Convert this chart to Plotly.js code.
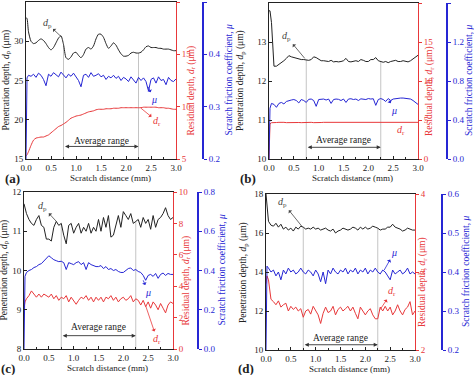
<!DOCTYPE html>
<html><head><meta charset="utf-8">
<script src="https://cdn.plot.ly/plotly-3.0.1.min.js"></script>
<style>html,body{margin:0;padding:0;background:#fff}#chart{width:474px;height:375px}</style>
</head><body><div id="chart"></div>
<script>
// Scratch distance (mm)
const X = [0,0.02,
0.05,0.1,0.15,0.2,0.25,0.3,0.35,0.4,0.45,0.5,
0.55,0.6,0.65,0.7,0.75,0.8,0.85,0.9,0.95,1.0,
1.05,1.1,1.15,1.2,1.25,1.3,1.35,1.4,1.45,1.5,
1.55,1.6,1.65,1.7,1.75,1.8,1.85,1.9,1.95,2.0,
2.05,2.1,2.15,2.2,2.25,2.3,2.35,2.4,2.45,2.5,
2.55,2.6,2.65,2.7,2.75,2.8,2.85,2.9,2.95,3.0];

// Panel (a)
const A_dp = [33.0,32.9,
31.2,30.0,29.7,29.8,30.1,30.3,30.1,29.7,29.2,28.9,
29.2,29.8,30.4,30.7,29.6,27.9,27.7,28.0,28.5,28.6,
28.2,27.9,28.3,29.0,29.2,29.0,29.4,30.3,30.9,30.9,
30.5,29.7,29.1,29.4,29.8,29.5,28.9,28.4,28.1,28.1,
28.2,28.5,28.6,28.5,28.5,28.6,28.9,29.3,29.4,29.2,
29.2,29.2,29.1,29.1,29.0,29.0,29.0,28.9,28.8,28.8];
const A_dr = [5.3,5.4,
5.7,6.3,6.8,7.0,7.05,7.1,7.1,7.2,7.3,7.5,
7.7,7.9,8.1,8.2,8.35,8.5,8.7,8.9,9.0,9.1,
9.15,9.2,9.3,9.4,9.5,9.55,9.6,9.7,9.75,9.75,
9.75,9.8,9.8,9.8,9.85,9.85,9.85,9.9,9.9,9.9,
9.9,9.9,9.9,9.9,9.9,9.9,9.95,9.95,9.95,9.95,
9.95,9.95,9.9,9.9,9.9,9.85,9.85,9.8,9.75,9.75];
const A_mu = [0.2,0.355,
0.36,0.358,0.362,0.356,0.364,0.36,0.352,0.34,0.362,0.358,
0.365,0.36,0.357,0.366,0.36,0.355,0.362,0.358,0.364,0.357,
0.35,0.338,0.36,0.362,0.356,0.365,0.358,0.36,0.363,0.357,
0.36,0.352,0.358,0.355,0.36,0.354,0.358,0.35,0.356,0.353,
0.348,0.357,0.352,0.345,0.356,0.35,0.355,0.348,0.33,0.352,
0.355,0.345,0.357,0.35,0.352,0.342,0.356,0.35,0.348,0.353];

// Panel (b)
const B_dp = [13.8,13.8,
13.5,12.38,12.38,12.42,12.47,12.52,12.58,12.65,12.62,12.6,
12.57,12.56,12.55,12.55,12.54,12.53,12.55,12.62,12.6,12.55,
12.52,12.52,12.5,12.5,12.53,12.49,12.5,12.49,12.5,12.52,
12.58,12.5,12.49,12.5,12.52,12.5,12.55,12.53,12.5,12.5,
12.55,12.55,12.6,12.52,12.5,12.48,12.5,12.47,12.5,12.52,
12.53,12.5,12.5,12.52,12.5,12.49,12.52,12.56,12.6,12.66];
const B_dr = [0.0,4.5,
4.65,4.7,4.68,4.7,4.72,4.7,4.66,4.68,4.7,4.72,
4.7,4.68,4.66,4.68,4.7,4.72,4.7,4.66,4.64,4.66,
4.68,4.7,4.7,4.68,4.68,4.7,4.7,4.68,4.68,4.7,
4.7,4.68,4.68,4.7,4.7,4.68,4.7,4.7,4.68,4.68,
4.7,4.7,4.72,4.7,4.68,4.68,4.7,4.7,4.68,4.68,
4.7,4.7,4.68,4.68,4.7,4.7,4.68,4.68,4.7,4.7];
const B_mu = [0.0,0.52,
0.57,0.56,0.53,0.57,0.58,0.565,0.59,0.6,0.605,0.61,
0.6,0.575,0.61,0.6,0.58,0.612,0.615,0.6,0.54,0.61,
0.612,0.615,0.605,0.615,0.57,0.61,0.615,0.612,0.6,0.615,
0.58,0.615,0.618,0.61,0.615,0.6,0.617,0.615,0.61,0.62,
0.615,0.618,0.55,0.61,0.62,0.61,0.59,0.62,0.6,0.615,
0.62,0.618,0.625,0.625,0.62,0.62,0.615,0.6,0.58,0.56];

// Panel (c)
const C_dp = [11.7,11.6,
11.45,11.3,11.2,11.15,11.3,11.4,11.15,11.1,10.8,10.8,
10.75,11.1,11.25,11.15,11.2,10.9,10.68,11.15,11.2,10.95,
11.1,11.2,10.95,11.1,11.0,11.2,10.95,11.1,11.0,11.3,
11.0,11.35,11.1,11.4,10.85,10.9,11.15,11.4,11.1,11.5,
11.4,11.3,11.45,11.2,11.25,11.3,11.1,11.35,11.2,11.3,
11.05,11.4,11.1,11.3,11.35,11.45,11.6,11.4,11.3,11.35];
const C_dr = [2.6,3.0,
3.2,3.4,3.7,3.5,3.3,3.5,3.3,3.5,3.4,3.3,
3.5,3.2,3.4,3.1,3.3,3.2,3.4,3.0,3.3,3.1,
2.85,3.1,3.3,3.2,3.4,3.1,3.3,3.0,3.3,3.1,
3.3,3.0,3.3,3.2,3.4,3.1,3.3,3.0,3.2,3.3,
3.1,3.2,3.4,3.0,3.2,3.1,2.8,3.1,2.7,3.0,
2.6,3.0,2.8,2.5,2.9,2.6,2.3,2.8,3.0,2.9];
const C_mu = [0.0,0.37,
0.39,0.40,0.405,0.415,0.42,0.43,0.435,0.45,0.46,0.475,
0.465,0.455,0.45,0.445,0.447,0.44,0.405,0.44,0.435,0.43,
0.44,0.445,0.43,0.44,0.405,0.44,0.43,0.425,0.42,0.42,
0.425,0.41,0.42,0.405,0.41,0.4,0.405,0.395,0.39,0.39,
0.4,0.41,0.413,0.40,0.405,0.395,0.39,0.375,0.35,0.375,
0.38,0.37,0.385,0.36,0.38,0.387,0.375,0.385,0.38,0.38];

// Panel (d)
const D_dp = [18.0,17.4,
16.6,16.4,16.35,16.5,16.3,16.45,16.2,16.3,16.15,16.25,
16.1,16.3,16.2,16.35,16.3,16.2,16.25,16.2,16.3,16.2,
16.25,16.15,16.2,16.25,16.15,16.1,16.2,16.0,16.1,16.15,
16.25,16.2,16.15,16.2,16.3,16.25,16.15,16.3,16.2,16.3,
16.2,16.25,16.35,16.3,16.25,16.15,16.2,16.2,16.3,16.3,
16.45,16.3,16.25,16.2,16.1,16.15,16.25,16.2,16.15,16.15];
const D_dr = [2.85,2.95,
2.9,2.65,2.62,2.58,2.63,2.55,2.58,2.6,2.5,2.56,
2.52,2.55,2.5,2.53,2.42,2.5,2.52,2.46,2.56,2.5,
2.45,2.34,2.47,2.55,2.48,2.5,2.56,2.45,2.52,2.55,
2.5,2.53,2.56,2.5,2.55,2.47,2.4,2.55,2.5,2.45,
2.5,2.53,2.45,2.4,2.4,2.55,2.5,2.56,2.5,2.55,
2.45,2.5,2.58,2.5,2.45,2.52,2.55,2.62,2.45,2.5];
const D_mu = [0.2,0.415,
0.41,0.4,0.405,0.39,0.4,0.38,0.405,0.395,0.41,0.4,
0.405,0.395,0.4,0.41,0.4,0.395,0.405,0.4,0.39,0.405,
0.395,0.375,0.4,0.37,0.405,0.395,0.41,0.4,0.395,0.405,
0.4,0.41,0.395,0.405,0.4,0.41,0.395,0.405,0.4,0.41,
0.395,0.405,0.4,0.41,0.4,0.395,0.405,0.4,0.39,0.38,
0.405,0.395,0.4,0.405,0.395,0.4,0.41,0.395,0.4,0.395];

// Tick values
const X_ticks = [0,0.5,1.0,1.5,2.0,2.5,3.0];
const A_dp_ticks = [15,20,25,30,35];
const A_dr_ticks = [5,10,15,20];
const A_mu_ticks = [0.2,0.3,0.4,0.5];
const B_dp_ticks = [10,11,12,13,14];
const B_dr_ticks = [0,5,10,15,20];
const B_mu_ticks = [0.0,0.4,0.8,1.2,1.6];
const C_dp_ticks = [8,9,10,11,12];
const C_dr_ticks = [0,2,4,6,8,10];
const C_mu_ticks = [0.0,0.2,0.4,0.6,0.8];
const D_dp_ticks = [10,12,14,16,18];
const D_dr_ticks = [2,3,4];
const D_mu_ticks = [0.2,0.3,0.4,0.5,0.6];
const panelLabels = ['(a)','(b)','(c)','(d)'];
const avgRange = [0.75, 2.25];

const BLACK = '#222222', RED = '#e8383a', BLUE = '#2626d4', GREY = '#c4c4c4';
const FONT = 'Liberation Serif, Times New Roman, serif';
const W = 474, H = 375;

const panels = [
  {dp:A_dp, dr:A_dr, mu:A_mu, t1:A_dp_ticks, t2:A_dr_ticks, t3:A_mu_ticks, f3:'.1f',
   xd:[26,176], yd:[2,159], blue:203, spline:true,
   lab:[12,178], t1x:6, t2x:191, t3x:228,
   dpL:{ax:0.42, ay:32.3, x:0.7, y:30.6}, muL:{ax:2.56, ay:0.314, x:2.44, y:0.338}, drL:{ax:2.62, ay:8.6, x:2.3, y:9.85},
   avgY:16.6, avgT:17.35},
  {dp:B_dp, dr:B_dr, mu:B_mu, t1:B_dp_ticks, t2:B_dr_ticks, t3:B_mu_ticks, f3:'.1f',
   xd:[269,418], yd:[3,159], blue:447, spline:false,
   lab:[248,178], t1x:241, t2x:429, t3x:469,
   dpL:{ax:0.36, ay:13.13, x:0.72, y:12.58}, muL:{ax:2.52, ay:0.5, x:2.42, y:0.6}, drL:{ax:2.66, ay:3.6, x:2.44, y:4.68},
   avgY:10.3, avgT:10.5},
  {dp:C_dp, dr:C_dr, mu:C_mu, t1:C_dp_ticks, t2:C_dr_ticks, t3:C_mu_ticks, f3:'.1f',
   xd:[24,173], yd:[192,349], blue:198, spline:false,
   lab:[8,368], t1x:4, t2x:186, t3x:221,
   dpL:{ax:0.38, ay:11.62, x:0.66, y:11.24}, muL:{ax:2.5, ay:0.29, x:2.4, y:0.35}, drL:{ax:2.68, ay:0.6, x:2.45, y:2.75},
   avgY:8.34, avgT:8.55},
  {dp:D_dp, dr:D_dr, mu:D_mu, t1:D_dp_ticks, t2:D_dr_ticks, t3:D_mu_ticks, f3:'.1f',
   xd:[266,415], yd:[194,350], blue:442, spline:false,
   lab:[246,368], t1x:243, t2x:422, t3x:466,
   dpL:{ax:0.34, ay:17.55, x:0.72, y:16.35}, muL:{ax:2.58, ay:0.45, x:2.38, y:0.405}, drL:{ax:2.54, ay:2.75, x:2.3, y:2.52},
   avgY:10.27, avgT:10.6}
];

const traces = [], annotations = [], shapes = [];
const layout = {width:W, height:H, margin:{l:0,r:0,t:0,b:0}, paper_bgcolor:'#fff', plot_bgcolor:'rgba(0,0,0,0)',
  showlegend:false, font:{family:FONT, size:9, color:BLACK}};

function fmt(v, f){ return f==='.1f' ? v.toFixed(1) : String(v); }
const tickfont = c => ({family:FONT, size:9, color:c});
const paperNote = (px, py, txt, size, col, angle) => annotations.push({xref:'paper', yref:'paper', x:px/W, y:1-py/H,
  xanchor:'center', yanchor:'middle', text:txt, showarrow:false, textangle:angle||0, font:{family:FONT, size:size, color:col}});

panels.forEach((p, i) => {
  const xn = i===0 ? '' : String(i+1);
  const y1n = String(3*i+1), y2n = String(3*i+2), y3n = String(3*i+3);
  const xid = 'x'+xn, y1id = 'y'+(y1n==='1'?'':y1n), y2id = 'y'+y2n, y3id = 'y'+y3n;
  const xdom = [p.xd[0]/W, p.xd[1]/W];
  const ydom = [1-p.yd[1]/H, 1-p.yd[0]/H];
  const r1 = [p.t1[0], p.t1[p.t1.length-1]], r2 = [p.t2[0], p.t2[p.t2.length-1]], r3 = [p.t3[0], p.t3[p.t3.length-1]];

  layout['xaxis'+xn] = {domain:xdom, anchor:y1id, range:[0,3], tickvals:X_ticks, ticktext:X_ticks.map(v=>v.toFixed(1)),
    showline:true, linecolor:BLACK, linewidth:1, mirror:true, ticks:'inside', ticklen:3, tickcolor:BLACK,
    showgrid:false, zeroline:false, tickfont:tickfont(BLACK),
    minor:{tickvals:[0.25,0.75,1.25,1.75,2.25,2.75], ticks:'inside', ticklen:2, tickcolor:BLACK, showgrid:false}};
  layout['yaxis'+(y1n==='1'?'':y1n)] = {domain:ydom, anchor:xid, range:r1, tickvals:p.t1, ticktext:p.t1.map(v=>String(v)),
    showline:true, linecolor:BLACK, linewidth:1, ticks:'inside', ticklen:3, tickcolor:BLACK, showgrid:false, zeroline:false,
    tickfont:tickfont(BLACK)};
  layout['yaxis'+y2n] = {domain:ydom, anchor:xid, overlaying:y1id, side:'right', range:r2, tickvals:p.t2, ticktext:p.t2.map(v=>String(v)),
    showline:true, linecolor:RED, linewidth:1, ticks:'outside', ticklen:3, tickcolor:RED, showgrid:false, zeroline:false,
    tickfont:tickfont(RED)};
  layout['yaxis'+y3n] = {domain:ydom, anchor:'free', position:p.blue/W, overlaying:y1id, side:'right', range:r3,
    tickvals:p.t3, ticktext:p.t3.map(v=>fmt(v,p.f3)),
    showline:true, linecolor:BLUE, linewidth:2, ticks:'outside', ticklen:3, tickcolor:BLUE, showgrid:false, zeroline:false,
    tickfont:tickfont(BLUE)};

  const shp = p.spline ? 'spline' : 'linear';
  traces.push({x:X, y:p.dp, xaxis:xid, yaxis:y1id, mode:'lines', line:{color:BLACK, width:1, shape:shp, smoothing:0.6}});
  traces.push({x:X, y:p.dr, xaxis:xid, yaxis:y2id, mode:'lines', line:{color:RED, width:1, shape:shp, smoothing:0.6}});
  traces.push({x:X, y:p.mu, xaxis:xid, yaxis:y3id, mode:'lines', line:{color:BLUE, width:1}});

  // grey lines marking the average range
  avgRange.forEach(xv => {
    const k = X.indexOf(xv);
    shapes.push({type:'line', xref:xid, yref:y1id, x0:xv, x1:xv, y0:r1[0], y1:p.dp[k], line:{color:GREY, width:1}, layer:'below'});
  });
  annotations.push({xref:xid, yref:y1id, axref:xid, ayref:y1id, x:avgRange[1], y:p.avgY, ax:avgRange[0], ay:p.avgY,
    text:'', showarrow:true, arrowhead:2, arrowside:'end+start', arrowsize:0.9, arrowwidth:0.9, arrowcolor:'#333'});
  annotations.push({xref:xid, yref:y1id, x:1.5, y:p.avgT, xanchor:'center', yanchor:'middle', text:'Average range', showarrow:false,
    font:{family:FONT, size:9.5, color:BLACK}});

  // curve labels
  const lab = (L, yid, txt, col) => annotations.push({xref:xid, yref:yid, axref:xid, ayref:yid, x:L.x, y:L.y, ax:L.ax, ay:L.ay,
    text:txt, showarrow:true, arrowside:'start', arrowhead:2, arrowsize:0.8, arrowwidth:0.8, arrowcolor:col, startstandoff:0,
    font:{family:FONT, size:10, color:col}});
  lab(p.dpL, y1id, '<i>d</i><sub>p</sub>', '#444');
  lab(p.muL, y3id, '<i>μ</i>', BLUE);
  lab(p.drL, y2id, '<i>d</i><sub>r</sub>', RED);

  // axis titles and panel label
  const xc = (p.xd[0]+p.xd[1])/2 + 9, ym = (p.yd[0]+p.yd[1])/2;
  paperNote(xc, p.yd[1]+19, 'Scratch distance (mm)', 9, BLACK);
  paperNote(p.t1x, ym, 'Penetration depth, <i>d</i><sub>p</sub> (μm)', 9.5, BLACK, -90);
  paperNote(p.t2x, ym+10, 'Residual depth, <i>d</i><sub>r</sub> (μm)', 9.5, RED, -90);
  paperNote(p.t3x, ym, 'Scratch friction coefficient, <i>μ</i>', 9.5, BLUE, -90);
  paperNote(p.lab[0], p.lab[1], '<b>'+panelLabels[i]+'</b>', 13, BLACK);
});

layout.annotations = annotations;
layout.shapes = shapes;
Plotly.newPlot('chart', traces, layout, {staticPlot:true, displayModeBar:false});
</script></body></html>
